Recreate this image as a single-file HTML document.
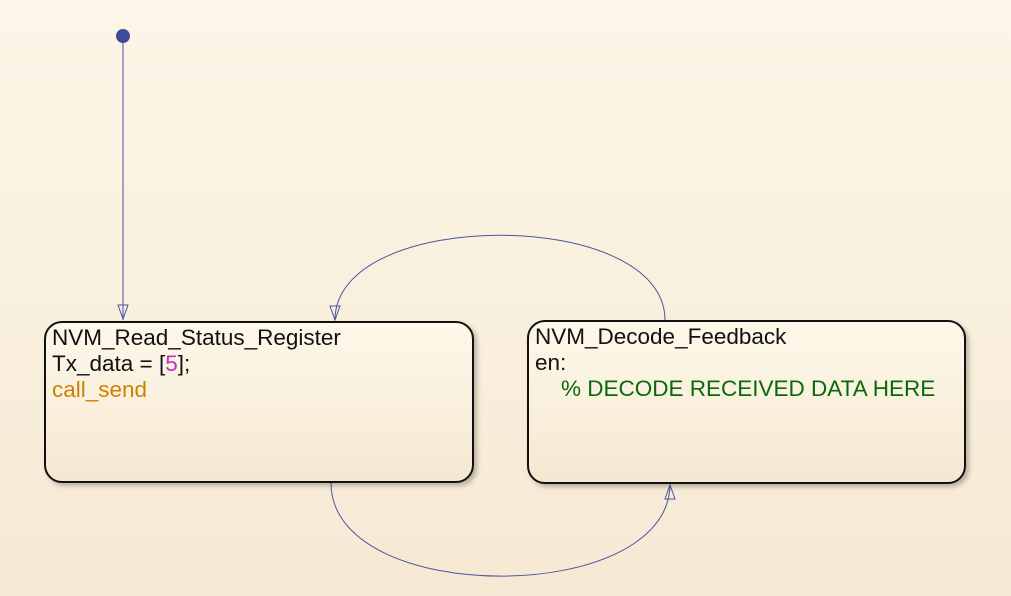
<!DOCTYPE html>
<html><head><style>
body{margin:0;width:1011px;height:596px;overflow:hidden;background:linear-gradient(#fdf6e8,#f6e9d4);font-family:"Liberation Sans",sans-serif;}
.box{position:absolute;border:2px solid #111;border-radius:18px;background:linear-gradient(#fef8ea,#f5e8d2);box-shadow:3px 3px 5px rgba(0,0,0,0.25);font-size:22.5px;line-height:26px;padding:2px 0 0 6px;box-sizing:border-box;color:#111;}
</style></head><body>
<svg width="1011" height="596" style="position:absolute;left:0;top:0">
<circle cx="123" cy="36" r="7" fill="#3f4a9a"/>
<line x1="123" y1="43" x2="123" y2="320" stroke="#4a55a0" stroke-width="1"/>
<polygon points="118,305 128,305 123,319" fill="none" stroke="#4a55a0"/>
<path d="M665,320 C665,207 335,207 335,320" fill="none" stroke="#4a55a0"/>
<polygon points="330,306 340,306 335,320" fill="none" stroke="#4a55a0"/>
<path d="M331,483 C331,607 670,607 670,484" fill="none" stroke="#4a55a0"/>
<polygon points="665,499 675,499 670,485" fill="none" stroke="#4a55a0"/>
</svg>
<div class="box" style="left:44px;top:321px;width:430px;height:162px">NVM_Read_Status_Register<br>Tx_data = [<span style="color:#c030c0">5</span>];<br><span style="color:#d08000">call_send</span></div>
<div class="box" style="left:527px;top:320px;width:439px;height:164px">NVM_Decode_Feedback<br>en:<br><span style="color:#0a6a0a;padding-left:26px">% DECODE RECEIVED DATA HERE</span></div>
</body></html>
